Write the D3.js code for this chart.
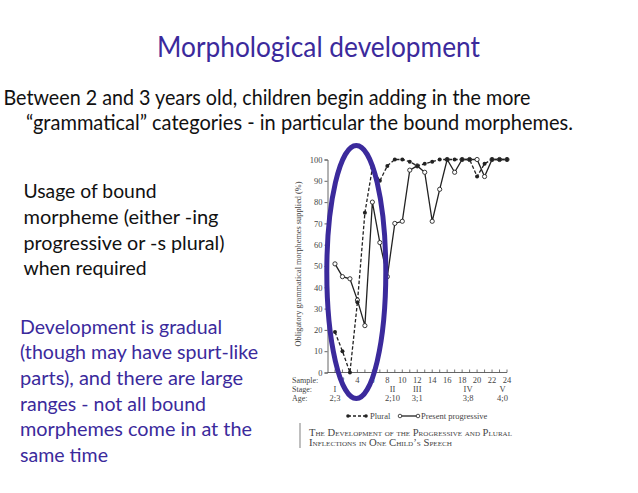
<!DOCTYPE html>
<head>
    <meta charset="utf-8">
    <script src="https://cdn.jsdelivr.net/npm/d3@7"></script>
    <style>
        body { margin: 0; background: white; }
        .slide { font-family: Lato, "Open Sans", sans-serif; }
        .chart text { font-family: "Liberation Serif", "DejaVu Serif", serif; fill: #444; }
    </style>
</head>
<body>
<div id="container"></div>
<script>

// data
var samples = d3.range(1, 25)
var plural = [19, 10, 0, 33, 75, 96, 90, 97, 100, 100, 99, 97, 98, 99, 100, 100, 100, 100, 100, 92, 98, 100, 100, 100]
var progressive = [51, 45, 44, 34, 22, 80, 61, 45, 70, 71, 95, 97, 94, 71, 86, 100, 94, 100, 100, 100, 92, 100, 100, 100]
var yTicks = d3.range(0, 101, 10)
var sampleLabels = [2, 4, 6, 8, 10, 12, 14, 16, 18, 20, 22, 24]
var stages = ["I", "II", "III", "IV", "V"]
var ages = ["2;3", "2;10", "3;1", "3;8", "4;0"]
var stageAt = [1, 8.7, 12, 18.8, 23.4]

var title = "Morphological development"
var intro = ["Between 2 and 3 years old, children begin adding in the more",
             "\u201Cgrammatical\u201D categories - in particular the bound morphemes."]
var usage = ["Usage of bound", "morpheme (either -ing", "progressive or -s plural)", "when required"]
var note = ["Development is gradual", "(though may have spurt-like", "parts), and there are large",
            "ranges - not all bound", "morphemes come in at the", "same time"]
var caption = ["The Development of the Progressive and Plural", "Inflections in One Child\u2019s Speech"]

var purple = '#3b2a9c'
var ink = '#222'

var svg = d3.select("#container").append("svg")
    .attr("width", 638).attr("height", 493)
    .attr("class", "slide")

// slide text
svg.append("text").attr("x", 157).attr("y", 57).text(title)
    .attr("font-size", 28).attr("fill", purple)
    .attr("textLength", 323).attr("lengthAdjust", "spacingAndGlyphs")

var introX = [3.5, 26], introW = [527, 547]
svg.selectAll("text.intro").data(intro).enter().append("text")
    .attr("class", "intro")
    .attr("x", (d, i) => introX[i]).attr("y", (d, i) => 105 + i * 25)
    .attr("font-size", 20.5).attr("fill", "#111")
    .attr("textLength", (d, i) => introW[i]).attr("lengthAdjust", "spacingAndGlyphs")
    .text(d => d)

var usageW = [133, 195, 201, 123]
svg.selectAll("text.usage").data(usage).enter().append("text")
    .attr("class", "usage")
    .attr("x", 23.5).attr("y", (d, i) => 198 + i * 25.8)
    .attr("font-size", 19.5).attr("fill", "#111")
    .attr("textLength", (d, i) => usageW[i]).attr("lengthAdjust", "spacingAndGlyphs")
    .text(d => d)

var noteW = [202, 238, 223, 186, 232, 88]
svg.selectAll("text.note").data(note).enter().append("text")
    .attr("class", "note")
    .attr("x", 20).attr("y", (d, i) => 333.5 + i * 25.7)
    .attr("font-size", 19.5).attr("fill", purple)
    .attr("textLength", (d, i) => noteW[i]).attr("lengthAdjust", "spacingAndGlyphs")
    .text(d => d)

// chart
var chart = svg.append("g").attr("class", "chart")

var x = d3.scaleLinear().domain([0, 24]).range([327.5, 507])
var y = d3.scaleLinear().domain([0, 100]).range([372.5, 159.5])

// y axis
var yAxis = chart.append("g").attr("transform", "translate(" + x(0) + ",0)")
    .call(d3.axisLeft(y).tickValues(yTicks).tickSize(3).tickPadding(2))
yAxis.selectAll("path, line").attr("stroke", "#555").attr("stroke-width", 0.9)
yAxis.selectAll("text").attr("font-size", 8.5).style("font-family", "Liberation Serif, serif").attr("fill", "#444")

chart.append("text")
    .attr("transform", "translate(301,264) rotate(-90)")
    .attr("text-anchor", "middle").attr("font-size", 8.3)
    .text("Obligatory grammatical morphemes supplied (%)")

// x axis: plain line with little upward ticks, labels in the sample row
chart.append("line").attr("x1", x(0)).attr("x2", x(24)).attr("y1", y(0)).attr("y2", y(0))
    .attr("stroke", "#555").attr("stroke-width", 0.9)
chart.selectAll("line.xtick").data(samples).enter().append("line")
    .attr("class", "xtick")
    .attr("x1", d => x(d)).attr("x2", d => x(d))
    .attr("y1", y(0)).attr("y2", y(0) - 3)
    .attr("stroke", "#555").attr("stroke-width", 0.8)

var rowY = [382.5, 391.5, 400.5]
chart.selectAll("text.rowlab").data(["Sample:", "Stage:", "Age:"]).enter().append("text")
    .attr("class", "rowlab")
    .attr("x", 292).attr("y", (d, i) => rowY[i]).attr("font-size", 8)
    .text(d => d)
chart.selectAll("text.samp").data(sampleLabels).enter().append("text")
    .attr("class", "samp")
    .attr("x", d => x(d)).attr("y", rowY[0]).attr("text-anchor", "middle").attr("font-size", 8.5)
    .text(d => d)
chart.selectAll("text.stage").data(stages).enter().append("text")
    .attr("class", "stage")
    .attr("x", (d, i) => x(stageAt[i])).attr("y", rowY[1]).attr("text-anchor", "middle").attr("font-size", 8.5)
    .text(d => d)
chart.selectAll("text.age").data(ages).enter().append("text")
    .attr("class", "age")
    .attr("x", (d, i) => x(stageAt[i])).attr("y", rowY[2]).attr("text-anchor", "middle").attr("font-size", 8.5)
    .text(d => d)

// series
var line = d3.line().x((d, i) => x(samples[i])).y(d => y(d))

chart.append("path").datum(progressive).attr("d", line)
    .attr("fill", "none").attr("stroke", ink).attr("stroke-width", 1.3)
chart.append("path").datum(plural).attr("d", line)
    .attr("fill", "none").attr("stroke", ink).attr("stroke-width", 1.3).attr("stroke-dasharray", "3.5,2")

chart.selectAll("circle.prog").data(progressive).enter().append("circle")
    .attr("class", "prog")
    .attr("cx", (d, i) => x(samples[i])).attr("cy", d => y(d)).attr("r", 2.1)
    .attr("fill", "white").attr("stroke", ink).attr("stroke-width", 0.9)
chart.selectAll("circle.plur").data(plural).enter().append("circle")
    .attr("class", "plur")
    .attr("cx", (d, i) => x(samples[i])).attr("cy", d => y(d)).attr("r", 2)
    .attr("fill", ink)

// legend
var lg = chart.append("g").attr("transform", "translate(0,416)")
lg.append("line").attr("x1", 348).attr("x2", 366).attr("stroke", ink).attr("stroke-width", 1.3).attr("stroke-dasharray", "3,2")
lg.selectAll("circle.lp").data([348, 366]).enter().append("circle")
    .attr("class", "lp").attr("cx", d => d).attr("r", 1.8).attr("fill", ink)
lg.append("text").attr("x", 370).attr("y", 3).attr("font-size", 8.5).text("Plural")
lg.append("line").attr("x1", 400).attr("x2", 418).attr("stroke", ink).attr("stroke-width", 1.3)
lg.selectAll("circle.lo").data([400, 418]).enter().append("circle")
    .attr("class", "lo").attr("cx", d => d).attr("r", 1.8).attr("fill", "white").attr("stroke", ink).attr("stroke-width", 0.8)
lg.append("text").attr("x", 421).attr("y", 3).attr("font-size", 8.5).text("Present progressive")

// caption
chart.append("line").attr("x1", 300).attr("x2", 300).attr("y1", 423).attr("y2", 448)
    .attr("stroke", "#aaa").attr("stroke-width", 1.5)
var capW = [203, 143]
chart.selectAll("text.cap").data(caption).enter().append("text")
    .attr("class", "cap")
    .attr("x", 309).attr("y", (d, i) => 436 + i * 10)
    .attr("font-size", 10.5).style("font-variant", "small-caps").attr("fill", "#333")
    .attr("textLength", (d, i) => capW[i]).attr("lengthAdjust", "spacingAndGlyphs")
    .text(d => d)

// the hand-drawn ring round the first samples
svg.append("ellipse").attr("cx", 356.3).attr("cy", 272).attr("rx", 29.5).attr("ry", 126.5)
    .attr("fill", "none").attr("stroke", purple).attr("stroke-width", 5)

</script>
</body>
